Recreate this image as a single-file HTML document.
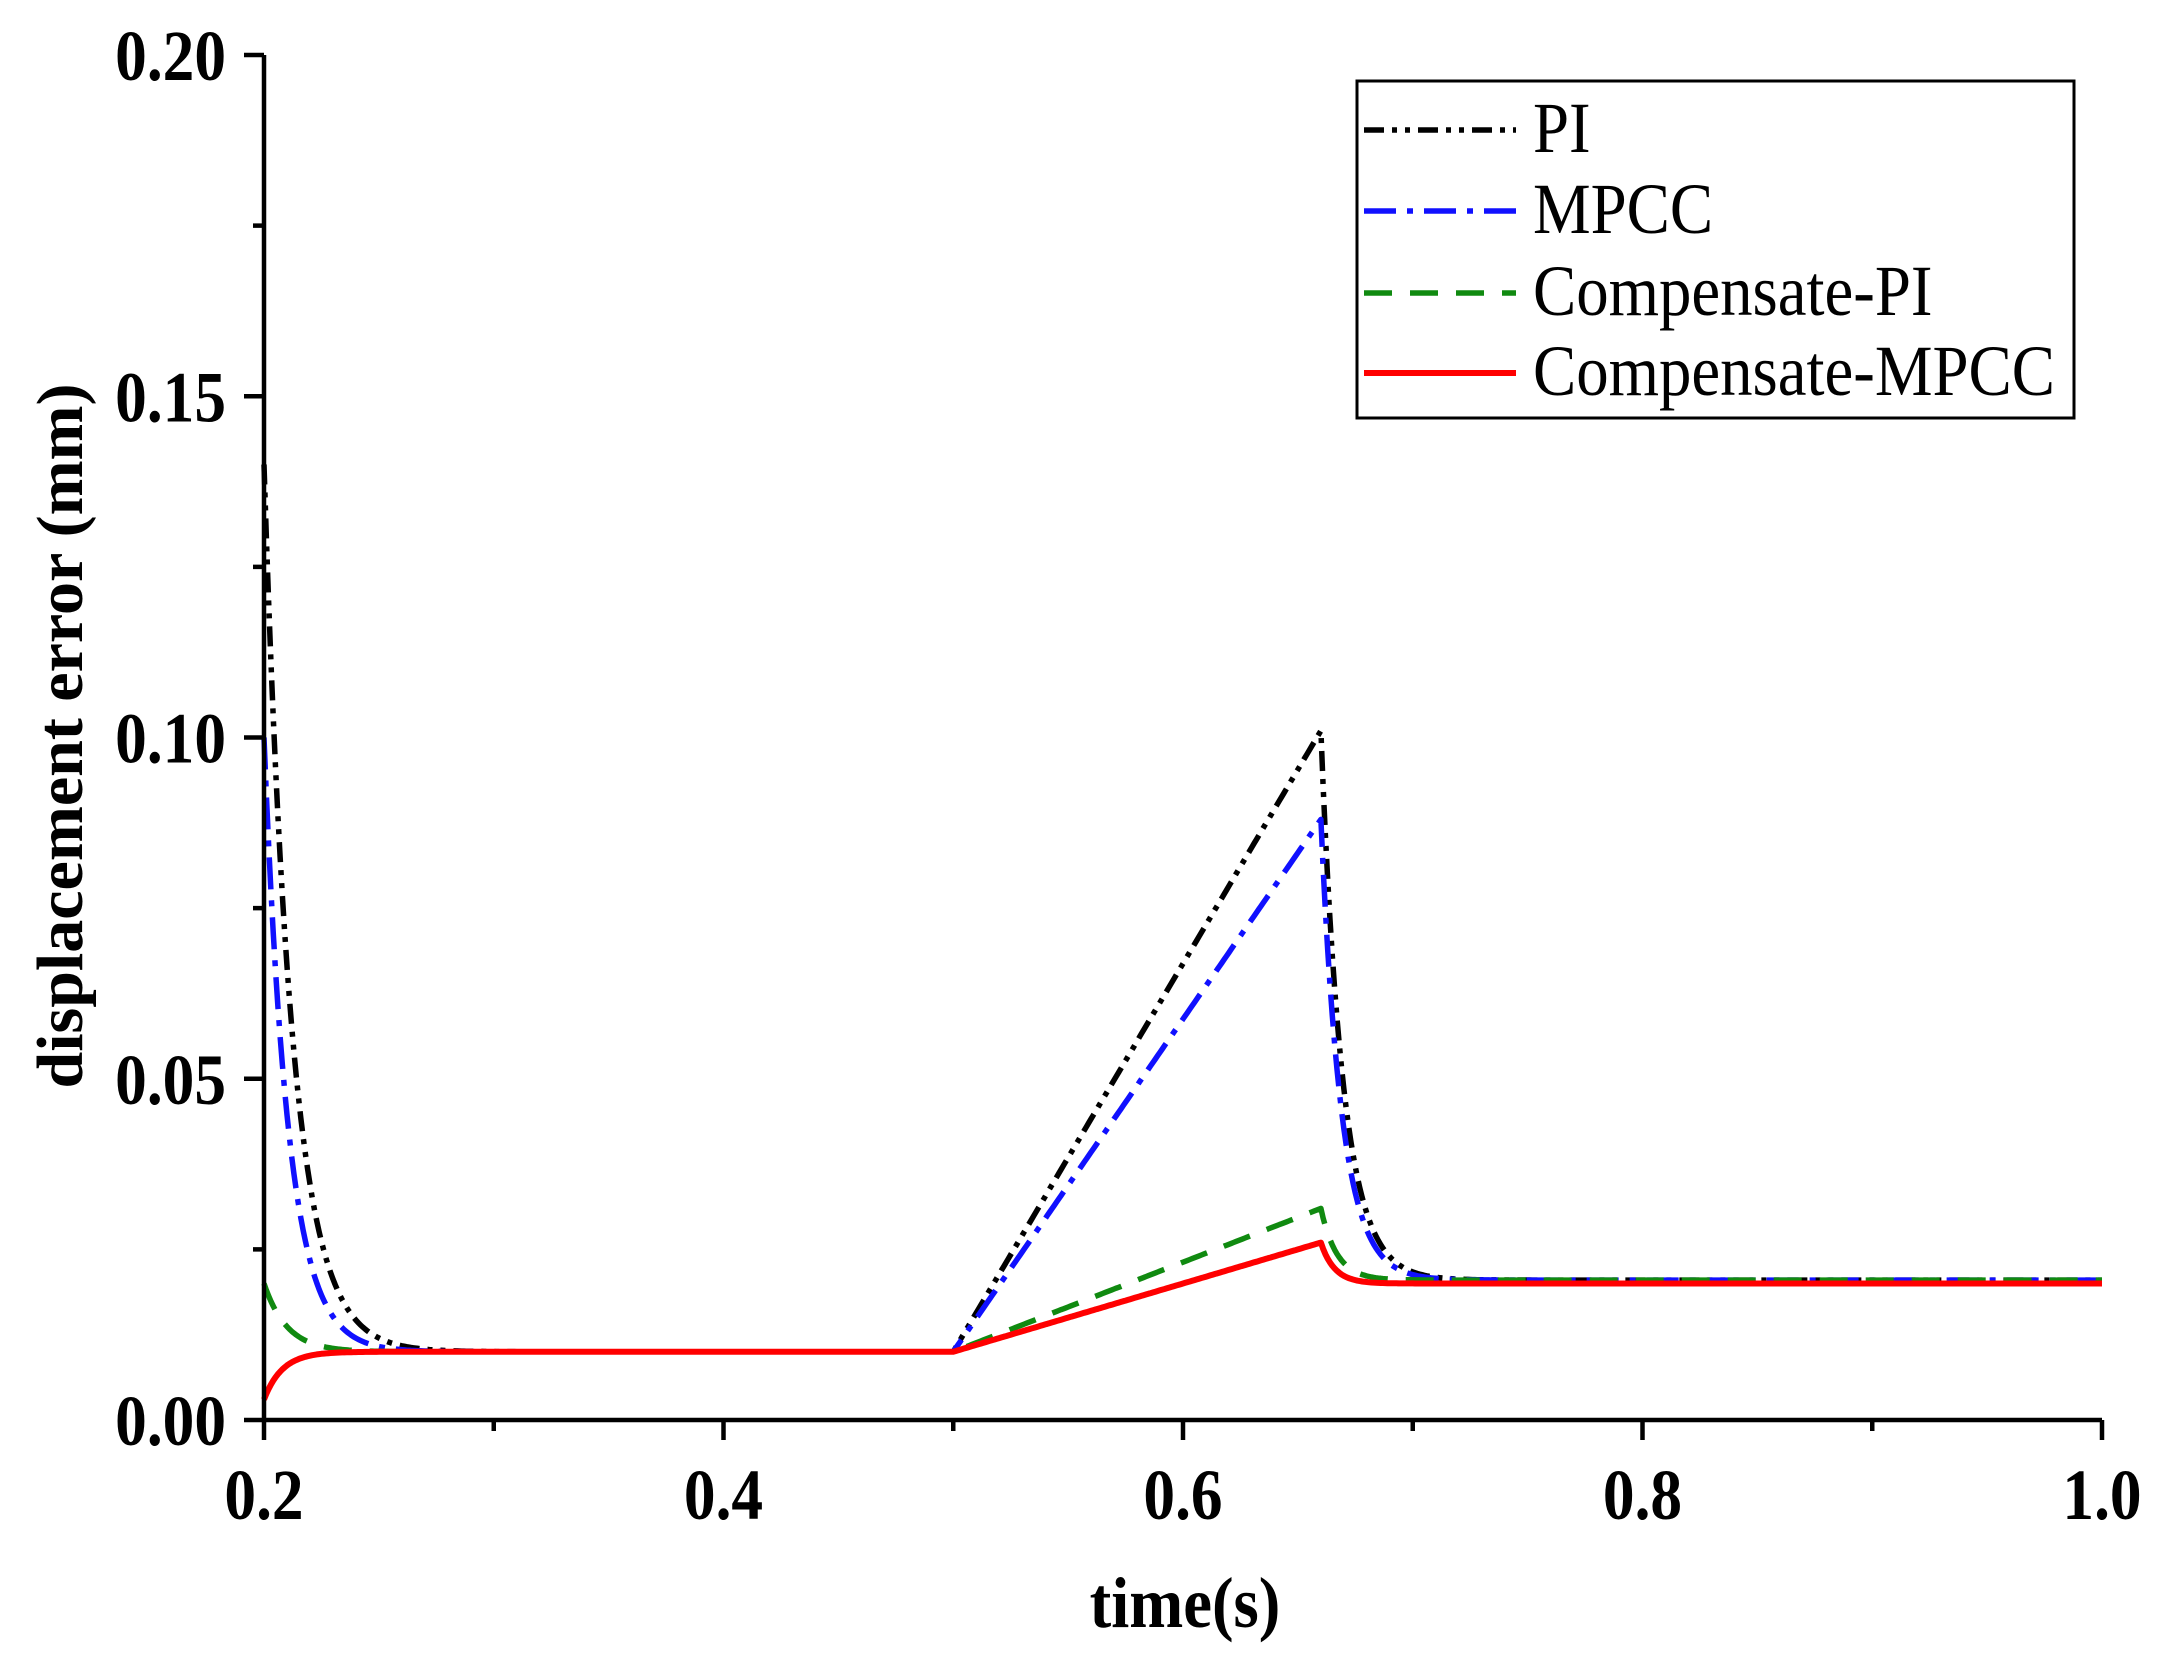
<!DOCTYPE html>
<html><head><meta charset="utf-8">
<style>
html,body{margin:0;padding:0;background:#fff;}
svg{display:block;}
text{font-family:"Liberation Serif","Times New Roman",serif;fill:#000;}
</style></head>
<body>
<svg id="s" width="2165" height="1667" viewBox="0 0 2165 1667" xmlns="http://www.w3.org/2000/svg">
<g id="plot" fill="none" stroke-linejoin="round"></g>
<g id="axes" stroke="#000" stroke-width="4.5"></g>
<g id="labels"></g>
<!-- legend -->
<rect x="1357" y="81" width="717" height="337" fill="#fff" stroke="#000" stroke-width="3"/>
<line x1="1364" y1="130" x2="1516" y2="130" stroke="#000" stroke-width="5.5" stroke-dasharray="20,8,5,8,5,8"/>
<line x1="1364" y1="211" x2="1516" y2="211" stroke="#1010ff" stroke-width="5.5" stroke-dasharray="32,11,6,11"/>
<line x1="1364" y1="293" x2="1516" y2="293" stroke="#108a10" stroke-width="5.5" stroke-dasharray="28,18"/>
<line x1="1364" y1="373" x2="1516" y2="373" stroke="#ff0000" stroke-width="6"/>
<g font-size="72">
<text transform="translate(1533,152) scale(0.9,1)">PI</text>
<text transform="translate(1533,233) scale(0.9,1)">MPCC</text>
<text transform="translate(1533,315) scale(0.9,1)">Compensate-PI</text>
<text transform="translate(1533,395) scale(0.9,1)">Compensate-MPCC</text>
</g>
<text transform="translate(1185,1627) scale(0.9,1)" font-size="72" font-weight="bold" text-anchor="middle">time(s)</text>
<text transform="translate(82,736) rotate(-90)" font-size="66" font-weight="bold" text-anchor="middle">displacement error (mm)</text>
</svg>
<script>
var X0=264,X1=2102,Y0=1420,YT=55;
function X(t){return X0+(t-0.2)/0.8*(X1-X0);}
function Y(v){return Y0-v/0.2*(Y0-YT);}
function curve(a0,tau1,peak,end,tau2){
  var p=[];
  for(var t=0.2;t<=1.0001;t+=0.001){
    var v;
    if(t<0.5){v=0.01+(a0-0.01)*Math.exp(-(t-0.2)/tau1);}
    else if(t<=0.66){v=0.01+(peak-0.01)*(t-0.5)/0.16;}
    else{v=end+(peak-end)*Math.exp(-(t-0.66)/tau2);}
    p.push(X(t).toFixed(1)+","+Y(v).toFixed(1));
  }
  return "M"+p.join("L");
}
var g=document.getElementById("plot"),ns="http://www.w3.org/2000/svg";
function add(d,c,w,da){var e=document.createElementNS(ns,"path");e.setAttribute("d",d);e.setAttribute("stroke",c);e.setAttribute("stroke-width",w);if(da)e.setAttribute("stroke-dasharray",da);g.appendChild(e);}
add(curve(0.14,0.012,0.101,0.0205,0.0095),"#000",5.5,"20,8,5,8,5,8");
add(curve(0.10,0.0105,0.088,0.0205,0.009),"#1010ff",5.5,"32,11,6,11");
add(curve(0.02,0.01,0.031,0.0205,0.007),"#108a10",5.5,"28,18");
add(curve(0.003,0.008,0.026,0.020,0.006),"#ff0000",6,null);
var ax=document.getElementById("axes"),lb=document.getElementById("labels");
function ln(x1,y1,x2,y2){var e=document.createElementNS(ns,"line");e.setAttribute("x1",x1);e.setAttribute("y1",y1);e.setAttribute("x2",x2);e.setAttribute("y2",y2);ax.appendChild(e);}
function tx(x,y,s,a){var e=document.createElementNS(ns,"text");e.setAttribute("transform","translate("+x+","+y+") scale(0.88,1)");e.setAttribute("font-size","72");e.setAttribute("font-weight","bold");e.setAttribute("text-anchor",a);e.textContent=s;lb.appendChild(e);}
ln(X0,YT,X0,Y0+2);ln(X0-2,Y0,X1,Y0);
for(var i=0;i<=8;i++){var t=0.2+i*0.1,x=X(t);var maj=(i%2==0);ln(x,Y0,x,Y0+(maj?20:11));if(maj)tx(x,1519,t.toFixed(1),"middle");}
for(var i=0;i<=8;i++){var v=i*0.025,y=Y(v);var maj=(i%2==0);ln(X0,y,X0-(maj?20:11),y);if(maj)tx(226,y+25,v.toFixed(2),"end");}
</script>
</body></html>
